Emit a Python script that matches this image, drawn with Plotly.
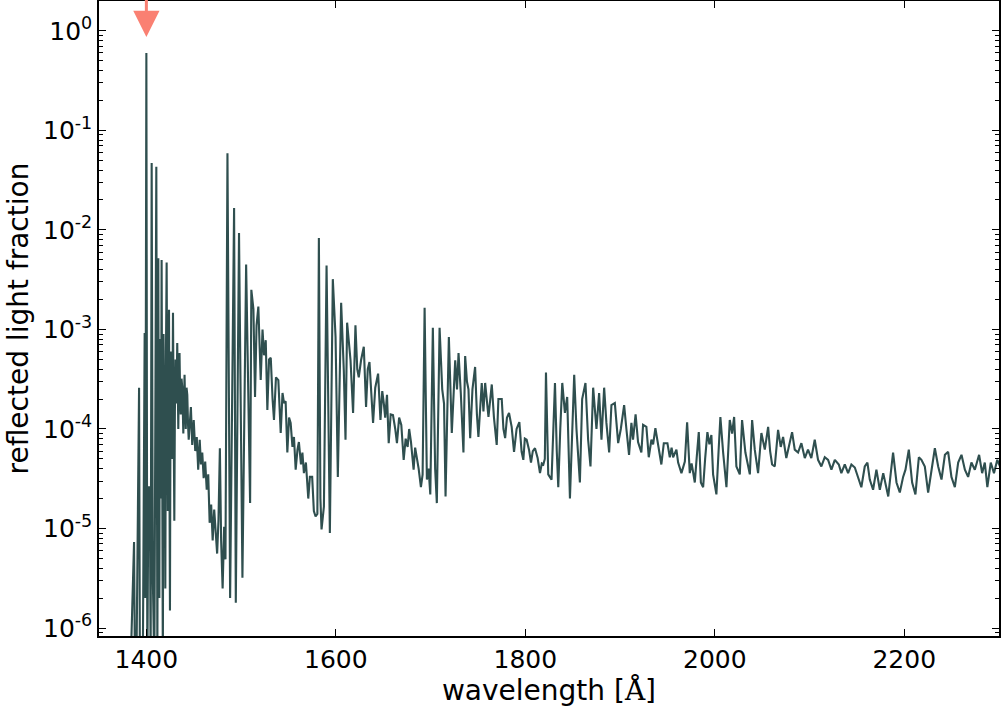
import math
import plotly.graph_objects as go

# wavelength in Angstrom
wavelength = [
    1383.0, 1387.0, 1388.0, 1389.5, 1392.3, 1393.2, 1396.3, 1398.2, 1398.9, 1400.0,
    1401.0, 1402.1, 1403.7, 1404.5, 1405.6, 1406.8, 1408.4, 1410.5, 1411.6, 1412.6,
    1413.2, 1413.7, 1414.2, 1414.7, 1415.4, 1416.1, 1416.7, 1417.4, 1418.1, 1418.9,
    1419.4, 1420.0, 1420.7, 1421.4, 1422.0, 1422.6, 1423.2, 1423.9, 1424.4, 1424.9,
    1425.6, 1426.3, 1427.2, 1428.1, 1428.8, 1429.5, 1430.1, 1430.8, 1431.7, 1432.6,
    1433.2, 1433.7, 1434.3, 1435.0, 1435.7, 1436.3, 1437.1, 1437.9, 1439.0, 1440.3,
    1441.0, 1441.6, 1442.4, 1443.2, 1444.0, 1444.7,
    1447.0, 1448.4, 1450.0, 1451.6, 1453.2, 1454.7, 1456.3,
    1457.6, 1459.0, 1460.5, 1462.1, 1463.7, 1465.3, 1466.8, 1468.4, 1470.0, 1471.6,
    1473.2, 1474.7, 1476.1, 1477.6, 1478.9, 1480.5, 1482.1, 1483.5, 1485.6, 1487.1,
    1488.4, 1492.6, 1494.4, 1497.8, 1501.4, 1505.3, 1507.4, 1509.5, 1510.8, 1513.0,
    1514.7, 1516.3, 1518.2, 1520.7, 1522.6, 1524.2, 1526.0, 1527.7, 1529.5, 1531.3,
    1533.2, 1534.7, 1536.8, 1539.3, 1541.8, 1543.7, 1545.3, 1547.0, 1548.8, 1550.6,
    1552.3, 1554.2, 1555.8, 1557.6, 1559.5, 1561.0, 1563.2, 1564.7, 1566.3, 1568.4,
    1570.9, 1572.6, 1575.0, 1576.8, 1578.6, 1580.5, 1582.1, 1583.7, 1584.9, 1587.4,
    1590.2, 1592.1, 1593.7, 1596.8, 1599.7, 1602.1, 1605.6, 1608.4, 1610.2, 1611.9,
    1615.5, 1618.2, 1620.7, 1622.6, 1624.2, 1626.6, 1629.5, 1631.9, 1633.7, 1635.5,
    1637.4, 1639.3, 1641.6, 1644.6, 1647.1, 1649.0, 1650.6, 1652.1, 1654.0, 1655.8,
    1657.9, 1660.3, 1662.7, 1664.5, 1666.8, 1669.1, 1671.6, 1673.7, 1675.8, 1677.4,
    1679.3, 1682.1, 1683.7, 1685.6, 1687.4, 1689.8, 1691.6, 1693.7, 1696.1, 1697.9,
    1699.7, 1702.4, 1704.8, 1706.6, 1709.5, 1712.3, 1714.2, 1715.8, 1719.3, 1722.4,
    1726.0, 1727.9, 1729.5, 1731.9, 1734.7, 1736.5, 1738.4, 1740.0, 1741.8, 1744.2,
    1747.0, 1748.9, 1750.5, 1754.0, 1755.8, 1757.6, 1761.1, 1764.6, 1766.9, 1769.8,
    1771.6, 1775.1, 1776.9, 1778.7, 1780.6, 1782.8, 1785.6, 1788.1, 1790.8, 1793.7,
    1796.1, 1797.9, 1799.5, 1801.4, 1803.9, 1806.0, 1807.9, 1810.2, 1813.0, 1815.5,
    1817.4, 1819.0, 1820.6, 1821.8, 1823.2, 1824.2, 1827.7, 1831.3, 1833.2, 1834.8,
    1836.9, 1839.0, 1841.8, 1844.2, 1847.1, 1849.5, 1851.6, 1854.0, 1855.8, 1857.6,
    1860.0, 1863.5, 1866.3, 1868.8, 1871.6, 1875.1, 1877.9, 1880.4, 1883.2, 1885.6,
    1888.5, 1890.9, 1894.5, 1898.0, 1900.8, 1904.3, 1906.7, 1909.5, 1912.0, 1913.7,
    1916.4, 1919.0, 1922.5, 1924.3, 1927.8, 1930.3, 1933.1, 1934.9, 1937.3, 1940.2,
    1943.6, 1946.2, 1950.0, 1952.5, 1954.4, 1956.0, 1959.5, 1961.3, 1964.8, 1968.4,
    1970.8, 1973.6, 1975.5, 1977.1, 1978.9, 1980.8, 1983.1, 1985.3, 1987.7, 1989.8,
    1992.2, 1994.3, 1996.4, 1998.2, 2000.0, 2001.7, 2004.0, 2005.9, 2008.8, 2012.3,
    2015.8, 2018.3, 2020.4, 2022.8, 2026.4, 2028.8, 2032.3, 2034.6, 2037.0, 2039.4,
    2042.2, 2045.7, 2049.2, 2052.8, 2056.3, 2058.4, 2060.5, 2063.3, 2066.8, 2069.6,
    2072.1, 2075.5, 2078.1, 2081.6, 2084.4, 2087.9, 2091.4, 2095.0, 2098.4, 2101.9,
    2105.5, 2109.0, 2112.5, 2116.1, 2119.6, 2123.1, 2126.7, 2130.9, 2133.6, 2137.2,
    2140.7, 2144.2, 2147.8, 2151.3, 2154.7, 2158.3, 2161.1, 2163.6, 2167.1, 2170.6,
    2174.2, 2177.8, 2180.4, 2183.1, 2185.6, 2188.2, 2191.8, 2195.3, 2198.8, 2201.3,
    2204.8, 2208.3, 2211.8, 2215.4, 2218.1, 2221.7, 2225.2, 2228.7, 2232.3, 2235.8,
    2239.3, 2242.9, 2246.3, 2249.8, 2253.4, 2256.9, 2260.4, 2264.0, 2267.4, 2270.9,
    2274.5, 2279.0, 2282.2, 2285.0, 2287.7, 2291.3, 2294.7, 2298.2, 2301.0,
]

reflected_fraction = [
    3e-7, 7.3e-6, 3e-7, 4e-7, 2.6e-4, 3e-7, 5e-7, 9.2e-4, 2e-6, 0.6,
    3e-7, 2.6e-5, 2.6e-5, 4e-7, 0.047, 3.2e-6, 4e-7, 0.043, 5e-7, 5.2e-3,
    3e-5, 2e-6, 8e-4, 1e-4, 2e-5, 5.0e-3, 6e-6, 4e-7, 9e-4, 1.5e-4,
    3e-4, 2.5e-6, 6e-4, 4.7e-3, 2e-4, 1.5e-5, 2.5e-4, 1.58e-3, 3e-5, 1.5e-6,
    6e-4, 2.9e-4, 5e-5, 1.47e-3, 2e-4, 1.2e-5, 1.5e-4, 5e-4, 1.8e-4, 7.3e-4,
    2.5e-4, 1.0e-4, 3e-4, 5.8e-4, 2e-4, 1.4e-4, 3.2e-4, 2.6e-4, 9e-5, 3.5e-4,
    1.6e-4, 1.0e-4, 2.6e-4, 2.2e-4, 1.1e-4, 7.8e-5,
    1.66e-4, 6.9e-5, 1.23e-4, 6.0e-5, 8.3e-5, 3.9e-5, 7.8e-5,
    4.4e-5, 5.8e-5, 3.2e-5, 4.7e-5, 2.45e-5, 3.5e-5, 1.14e-5, 1.74e-5, 7.6e-6, 1.55e-5,
    9.8e-6, 5.6e-6, 1.2e-5, 6.4e-5, 7.6e-6, 2.5e-6, 1.04e-5, 4.9e-6, 0.059, 3.1e-5,
    2.0e-6, 0.0166, 1.8e-6, 9.3e-3, 3.2e-6, 4.5e-3, 1.5e-4, 1.8e-5, 2.5e-3, 1.6e-3,
    2.1e-4, 1.1e-3, 1.7e-3, 3.1e-4, 1.0e-3, 5.5e-4, 7.8e-4, 1.55e-4, 5.0e-4, 5.2e-4,
    2.0e-4, 1.23e-4, 3.3e-4, 3.1e-4, 9.1e-5, 2.3e-4, 1.82e-4, 1.9e-4, 5.8e-5, 1.3e-4,
    1.15e-4, 6.6e-5, 8.3e-5, 3.9e-5, 6.2e-5, 7.4e-5, 4.4e-5, 5.8e-5, 3.6e-5, 4.6e-5,
    2.0e-5, 3.3e-5, 3.3e-5, 1.5e-5, 1.32e-5, 1.4e-5, 8.3e-3, 2.0e-5, 9.8e-6, 1.66e-5,
    4.4e-3, 6e-5, 9.0e-6, 3.2e-3, 8.4e-4, 3.3e-5, 1.85e-3, 3.9e-4, 7.8e-5, 1.17e-3,
    4.9e-4, 1.45e-4, 1.1e-3, 4.0e-4, 3.3e-4, 4.9e-4, 6.7e-4, 1.66e-4, 4.0e-4, 4.7e-4,
    2.5e-4, 1.15e-4, 2.6e-4, 3.6e-4, 1.23e-4, 2.4e-4, 1.82e-4, 1.3e-4, 2.2e-4, 7.2e-5,
    1.4e-4, 1.38e-4, 1.0e-4, 7.2e-5, 1.3e-4, 1.1e-4, 4.9e-5, 8.0e-5, 6.6e-5, 1.0e-4,
    7.4e-5, 3.9e-5, 6.5e-5, 5.2e-5, 4.0e-5, 2.6e-5, 3.5e-5, 1.65e-3, 3.1e-5, 4.0e-5,
    2.2e-5, 1.04e-3, 4.0e-5, 1.8e-5, 1.04e-3, 2.5e-4, 1.8e-4, 2.1e-5, 8.4e-4, 9.1e-5,
    4.9e-4, 2.5e-4, 5.8e-4, 2.3e-4, 5.8e-5, 5.4e-4, 3.0e-4, 2.5e-4, 8.1e-5, 2.5e-4,
    4.2e-4, 1.4e-4, 8.3e-5, 2.9e-4, 1.5e-4, 2.9e-4, 1.32e-4, 2.8e-4, 1.3e-4, 6.9e-5,
    2.0e-4, 2.0e-4, 1.0e-4, 8.1e-5, 1.3e-4, 1.45e-4, 1.05e-4, 5.9e-5, 1.0e-4, 1.17e-4,
    5.9e-5, 4.9e-5, 8.0e-5, 7.8e-5, 6.2e-5, 4.6e-5, 6.0e-5, 6.4e-5, 5.1e-5, 3.6e-5,
    4.5e-5, 4.4e-5, 5.0e-5, 3.7e-4, 5.0e-5, 3.5e-5, 3.1e-5, 2.9e-4, 6.0e-5, 2.6e-5,
    1.0e-4, 2.9e-4, 1.45e-4, 2.1e-4, 2.0e-5, 8.0e-5, 3.5e-4, 1.0e-4, 5.0e-5, 2.9e-5,
    2.0e-4, 2.9e-4, 7.8e-5, 4.2e-5, 2.6e-4, 1.0e-4, 2.3e-4, 7.8e-5, 2.6e-4, 1.15e-4,
    5.8e-5, 1.74e-4, 1.82e-4, 7.2e-5, 1.0e-4, 1.74e-4, 1.0e-4, 5.5e-5, 1.15e-4, 7.8e-5,
    1.4e-4, 7.4e-5, 5.8e-5, 1.1e-4, 1.05e-4, 5.2e-5, 7.8e-5, 7.0e-5, 1.02e-4, 6.6e-5,
    4.4e-5, 7.2e-5, 7.2e-5, 5.2e-5, 6.5e-5, 5.2e-5, 6.2e-5, 4.6e-5, 3.6e-5, 4.7e-5,
    1.17e-4, 3.6e-5, 4.5e-5, 3.7e-5, 2.9e-5, 5.0e-5, 9.3e-5, 2.9e-5, 2.6e-5, 5.0e-5,
    9.3e-5, 7.0e-5, 8.7e-5, 3.5e-5, 2.8e-5, 2.2e-5, 6.0e-5, 1.32e-4, 5.8e-5, 2.6e-5,
    1.23e-4, 9.0e-5, 1.32e-4, 4.2e-5, 3.5e-5, 1.23e-4, 5.8e-5, 4.5e-5, 3.5e-5, 1.23e-4,
    6.2e-5, 3.6e-5, 9.1e-5, 6.2e-5, 1.05e-4, 6.0e-5, 4.4e-5, 4.2e-5, 9.8e-5, 6.6e-5,
    8.3e-5, 5.1e-5, 6.6e-5, 9.3e-5, 6.2e-5, 5.8e-5, 7.2e-5, 5.1e-5, 6.2e-5, 5.1e-5,
    7.8e-5, 4.9e-5, 4.2e-5, 5.2e-5, 4.9e-5, 3.9e-5, 4.9e-5, 4.4e-5, 3.6e-5, 4.4e-5,
    3.6e-5, 4.4e-5, 4.1e-5, 3.3e-5, 2.6e-5, 4.2e-5, 4.6e-5, 3.1e-5, 2.45e-5, 3.9e-5,
    2.45e-5, 3.6e-5, 2.8e-5, 2.1e-5, 3.5e-5, 5.8e-5, 2.9e-5, 2.3e-5, 3.3e-5, 3.9e-5,
    6.2e-5, 2.9e-5, 2.2e-5, 5.2e-5, 4.9e-5, 4.2e-5, 2.3e-5, 3.9e-5, 6.4e-5, 4.2e-5,
    3.1e-5, 5.5e-5, 5.9e-5, 3.3e-5, 2.6e-5, 4.6e-5, 5.5e-5, 3.9e-5, 3.3e-5, 4.6e-5,
    3.9e-5, 5.5e-5, 3.6e-5, 4.6e-5, 2.6e-5, 4.6e-5, 3.6e-5, 4.9e-5, 4.2e-5,
]

# x ticks and y (log) ticks
x_tick_values = [1400, 1600, 1800, 2000, 2200]
y_tick_values = [1e-6, 1e-5, 1e-4, 1e-3, 1e-2, 1e-1, 1e0]
y_tick_labels = ["10<sup>-6</sup>", "10<sup>-5</sup>", "10<sup>-4</sup>",
                 "10<sup>-3</sup>", "10<sup>-2</sup>", "10<sup>-1</sup>",
                 "10<sup>0</sup>"]
y_minor_values = [k * 10.0 ** n for n in range(-7, 1) for k in range(2, 10)]

# marker arrow (line position)
arrow_wavelength = 1400
arrow_tip_value = 0.87
arrow_tail_value = 2.2

x_range = [1350, 2300]
y_log_range = [-6.08, 0.30]

line_color = "#2F4F4F"
arrow_color = "#FA8072"
font_family = "DejaVu Sans"

fig = go.Figure()
fig.add_trace(go.Scatter(
    x=wavelength, y=reflected_fraction, mode="lines",
    line=dict(color=line_color, width=2.1),
    showlegend=False, hoverinfo="skip",
))

fig.add_annotation(
    x=arrow_wavelength, y=math.log10(arrow_tip_value),
    ax=arrow_wavelength, ay=math.log10(arrow_tail_value),
    xref="x", yref="y", axref="x", ayref="y",
    text="", showarrow=True, arrowhead=2, arrowsize=1.75,
    arrowwidth=3, arrowcolor=arrow_color, standoff=0,
)

axis_common = dict(
    showline=True, linecolor="black", linewidth=1.5, mirror="allticks",
    ticks="inside", tickcolor="black", tickwidth=1.2, ticklen=7,
    showgrid=False, zeroline=False, automargin=False,
    tickfont=dict(family=font_family, size=25, color="black"),
)

fig.update_xaxes(
    range=x_range, tickmode="array", tickvals=x_tick_values,
    title=dict(text="wavelength [<span style='font-family:DejaVu Serif'>Å</span>]",
               font=dict(family=font_family, size=28, color="black"), standoff=8),
    **axis_common,
)
fig.update_yaxes(
    type="log", range=y_log_range, tickmode="array",
    tickvals=y_tick_values, ticktext=y_tick_labels,
    minor=dict(tickmode="array", tickvals=y_minor_values, ticks="inside",
               ticklen=4, tickcolor="black", tickwidth=1, showgrid=False),
    title=dict(text="reflected light fraction",
               font=dict(family=font_family, size=28, color="black"), standoff=6),
    **axis_common,
)

fig.update_layout(
    width=1001, height=710,
    margin=dict(l=99, r=2, t=1, b=74, autoexpand=False),
    paper_bgcolor="white", plot_bgcolor="white",
    font=dict(family=font_family, color="black"),
)

fig.write_html(
    "out.html",
    config={"displayModeBar": False},
    post_script="document.body.style.margin='0px';document.body.style.overflow='hidden';",
)
